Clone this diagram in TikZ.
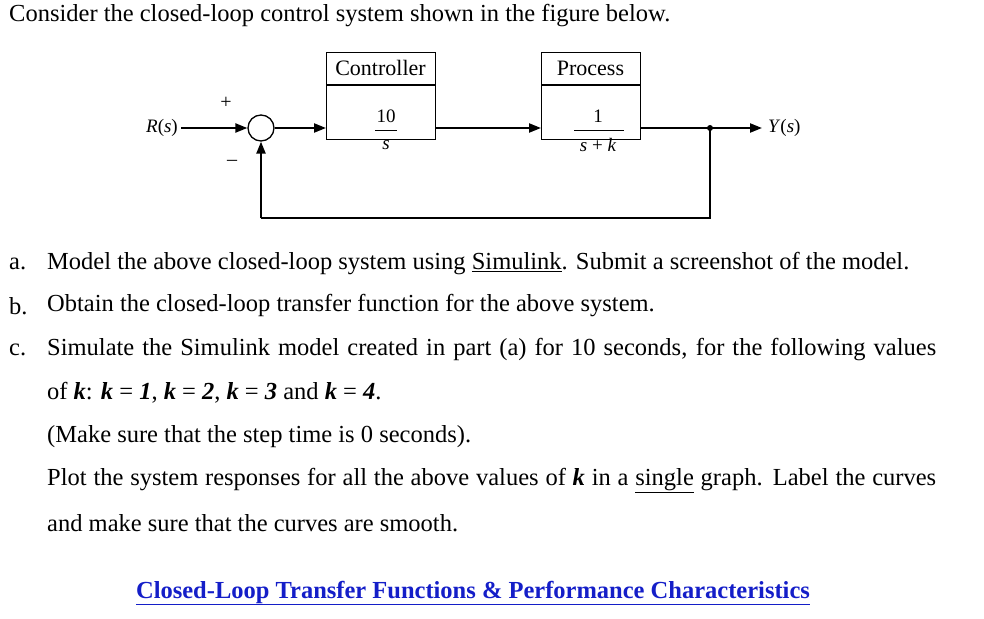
\documentclass[tikz,border=0pt]{standalone}
\usepackage{fontspec}
\setmainfont{Liberation Serif}
\usetikzlibrary{arrows.meta}
\definecolor{linkblue}{RGB}{20,30,200}
\begin{document}
\begin{tikzpicture}[x=1pt,y=-1pt,
  txt/.style={anchor=west,inner sep=0,font=\fontsize{24.5}{26}\selectfont},
  blk/.style={draw,line width=1.3pt,minimum width=#1,minimum height=87,inner sep=0},
  sig/.style={line width=2.2pt,-{Triangle[length=12pt,width=9pt]}},
  wire/.style={line width=2.2pt},
  lab/.style={font=\fontsize{22}{24}\selectfont,inner sep=0},
  frc/.style={font=\fontsize{19}{20}\selectfont,inner sep=0}]
\useasboundingbox (0,0) rectangle (984,618);
\node[txt] (t0) at (9,16) {Consider the closed-loop control system shown in the figure below.};
% blocks
\node[blk=109,anchor=north west] (ctl) at (326,52) {};
\draw[line width=1.3pt] (326,85) -- (435,85);
\node[lab] (ctlh) at (380.5,68) {Controller};
\node[frc] (cn) at (386,116) {10};
\draw[line width=0.9pt] (375,130) -- (397,130);
\node[frc] (cd) at (386,145) {\itshape s};
\node[blk=99,anchor=north west] (prc) at (541,52) {};
\draw[line width=1.3pt] (541,85) -- (640,85);
\node[lab] (prch) at (590.5,68) {Process};
\node[frc] (pn) at (598,116) {1};
\draw[line width=0.9pt] (574,130) -- (624,130);
\node[frc] (pd) at (598,145) {\itshape s \upshape+ \itshape k};
\node[draw,circle,line width=1.3pt,minimum size=26,inner sep=0] (sum) at (261,128) {};
\node[lab,anchor=east,font=\fontsize{19}{20}\selectfont] (R) at (178,128) {\textit{R}(\textit{s})};
\node[lab,anchor=west,font=\fontsize{19}{20}\selectfont] (Y) at (768,128) {\textit{Y}(\textit{s})};
\node[lab,font=\fontsize{20}{20}\selectfont] (plus) at (226,103) {+};
\node[lab,font=\fontsize{20}{20}\selectfont] (minus) at (232,163) {--};
\coordinate (j) at (710,128);
\coordinate (c1) at (710,218);
\coordinate (c2) at (261,218);
\draw[sig] (R.east) ++(3,0) -- (sum.west);
\draw[sig] (sum.east) -- (ctl.west |- sum.east);
\draw[sig] (ctl.east |- sum.east) -- (prc.west |- sum.east);
\draw[sig] (prc.east |- sum.east) -- (762,128) coordinate (yend);
\fill (j) circle (3);
\draw[wire] (j) -- (c1) -- (c2);
\draw[sig] (c2) -- (sum.south);
% text
\node[txt] (a) at (9,264) {a.};
\node[txt] (a2) at (47,264) {Model the above closed-loop system using \underline{Simulink}. Submit a screenshot of the model.};
\node[txt] (b) at (9,306) {b.};
\node[txt] (b2) at (47,306) {Obtain the closed-loop transfer function for the above system.};
\node[txt] (c) at (9,350) {c.};
\node[txt] (c1t) at (47,350) {\makebox[889pt][s]{Simulate the Simulink model created in part (a) for 10 seconds, for the following values}};
\node[txt] (c2t) at (47,393) {of \textbf{\textit{k}}: \textbf{\textit{k}} = \textbf{\textit{1}}, \textbf{\textit{k}} = \textbf{\textit{2}}, \textbf{\textit{k}} = \textbf{\textit{3}} and \textbf{\textit{k}} = \textbf{\textit{4}}.};
\node[txt] (c3) at (47,437) {(Make sure that the step time is 0 seconds).};
\node[txt] (c4) at (47,481) {\makebox[889pt][s]{Plot the system responses for all the above values of \textbf{\textit{k}} in a \underline{single} graph. Label the curves}};
\node[txt] (c5) at (47,523) {and make sure that the curves are smooth.};
\node[txt,anchor=center,text=linkblue,font=\fontsize{24.5}{26}\selectfont\bfseries] (lnk) at (473,593) {\underline{Closed-Loop Transfer Functions \& Performance Characteristics}};
\end{tikzpicture}
\end{document}
